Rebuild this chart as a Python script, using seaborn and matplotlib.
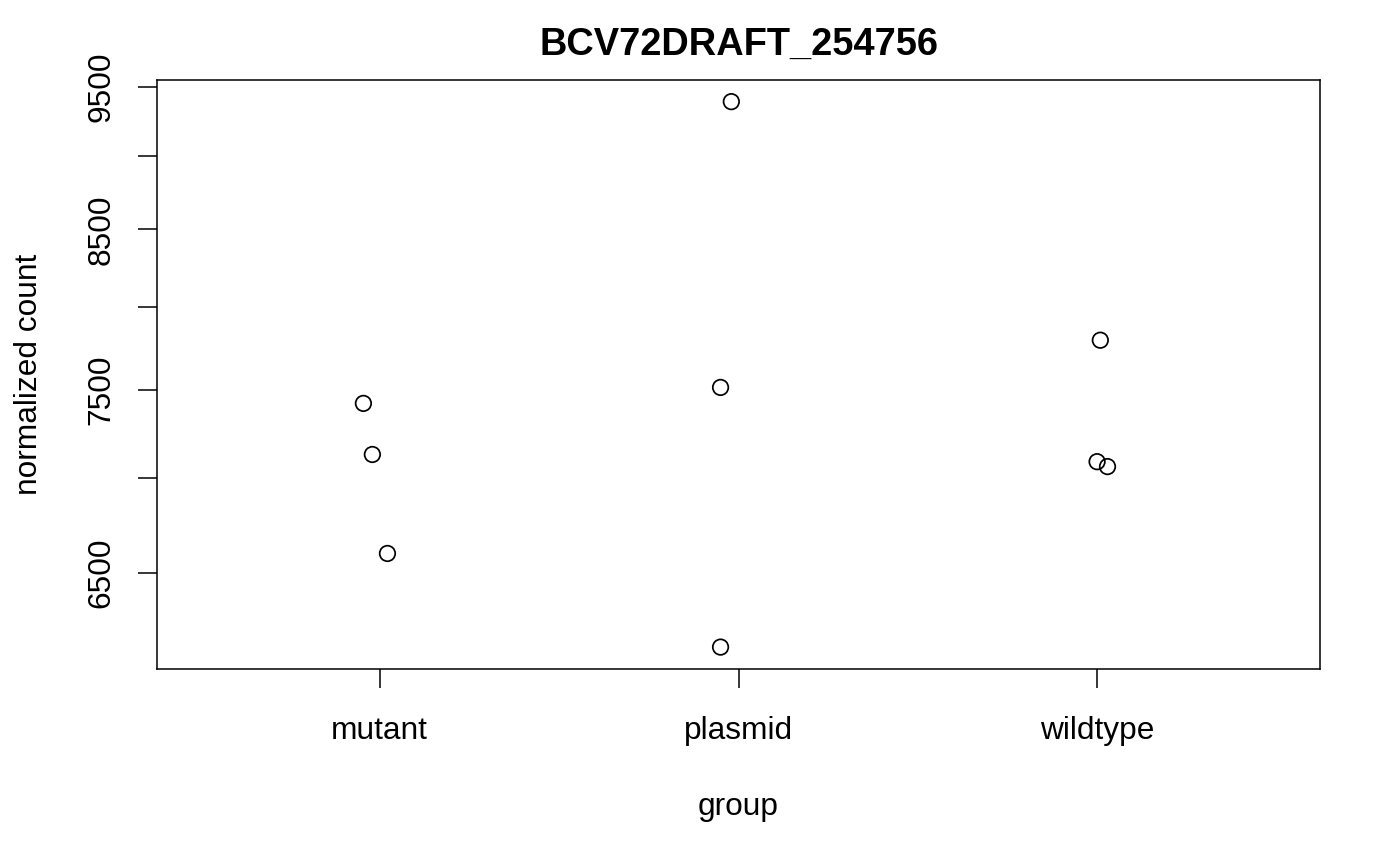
import numpy as np
import pandas as pd
import matplotlib
matplotlib.use("Agg")
import matplotlib.pyplot as plt
import matplotlib.ticker as mticker
import seaborn as sns

# ── Data ─────────────────────────────────────────────────────────────────────
groups = ["mutant", "plasmid", "wildtype"]
sample_group = ["mutant", "mutant", "mutant",
                "plasmid", "plasmid", "plasmid",
                "wildtype", "wildtype", "wildtype"]
counts = [7420, 7130, 6600,
          9390, 7513, 6135,
          7795, 7090, 7063]
# horizontal jitter (in group units)
jitter = [-0.045, -0.020, 0.022,
          -0.020, -0.050, -0.050,
          0.008, -0.001, 0.028]

y_ticks = [6500, 7000, 7500, 8000, 8500, 9000, 9500]
y_tick_labels = ["6500", "", "7500", "", "8500", "", "9500"]

df = pd.DataFrame({"group": sample_group, "count": counts, "jitter": jitter})
df["xpos"] = df["group"].map({g: i + 1 for i, g in enumerate(groups)}) + df["jitter"]

# ── Style ────────────────────────────────────────────────────────────────────
sns.set_style("white")
plt.rcParams["font.family"] = ["Liberation Sans", "DejaVu Sans"]
plt.rcParams["text.color"] = "black"
plt.rcParams["axes.labelcolor"] = "black"
FS = 22.8

fig = plt.figure(figsize=(14, 8.65), dpi=100)
ax = fig.add_axes([157 / 1400, 1 - 669 / 865, (1320 - 157) / 1400, (669 - 80) / 865])

sns.scatterplot(data=df, x="xpos", y="count", ax=ax, marker="o",
                s=125, facecolor="none", edgecolor="black", linewidth=1.25,
                legend=False)

ax.set_yscale("log")
ax.set_xlim(0.38, 3.62)
ax.set_ylim(6031, 9550)

ax.xaxis.set_major_locator(mticker.FixedLocator([1, 2, 3]))
ax.set_xticklabels(groups)
ax.yaxis.set_major_locator(mticker.FixedLocator(y_ticks))
ax.yaxis.set_minor_locator(mticker.NullLocator())
ax.yaxis.set_major_formatter(mticker.FixedFormatter(y_tick_labels))
for lab in ax.get_yticklabels():
    lab.set_rotation(90)
    lab.set_va("center")

ax.tick_params(axis="both", which="major", bottom=True, left=True,
               direction="out", length=14, width=1.1,
               color="black", labelsize=FS, labelcolor="black")
ax.tick_params(axis="x", pad=20)
ax.tick_params(axis="y", pad=15)

for sp in ax.spines.values():
    sp.set_visible(True)
    sp.set_color("black")
    sp.set_linewidth(1.1)

ax.set_xlabel("group", fontsize=FS, labelpad=33)
ax.set_ylabel("normalized count", fontsize=FS, labelpad=31)
ax.set_title("BCV72DRAFT_254756", fontsize=FS * 1.2, fontweight="bold", pad=18)

fig.savefig("out.png", dpi=100, facecolor="white")
